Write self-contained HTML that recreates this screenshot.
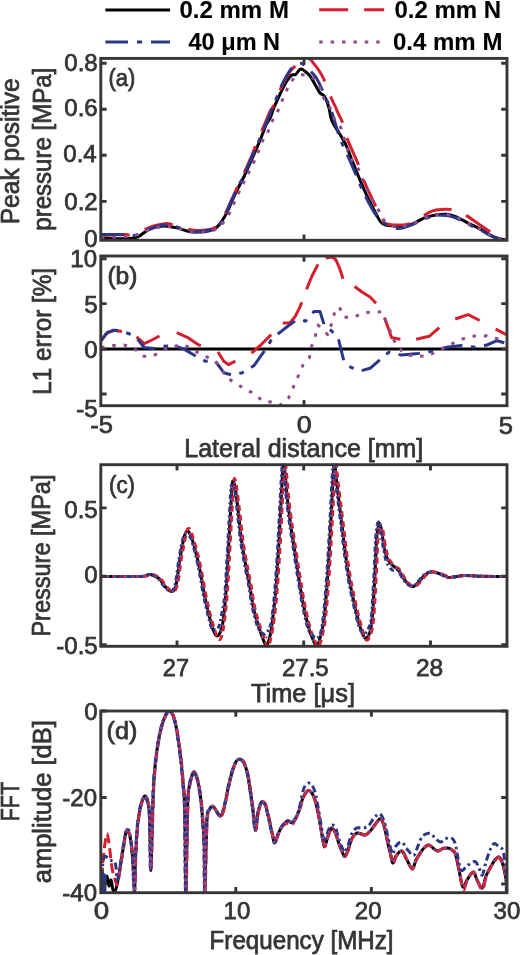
<!DOCTYPE html>
<html><head><meta charset="utf-8"><title>Figure</title>
<style>html,body{margin:0;padding:0;background:#fff;} svg{display:block;}</style>
</head><body>
<svg width="520" height="955" viewBox="0 0 520 955" font-family="'Liberation Sans', Arial, sans-serif">
<rect width="520" height="955" fill="#fff"/>
<clipPath id="clipa"><rect x="100.8" y="57.4" width="406.2" height="183.9"/></clipPath>
<clipPath id="clipb"><rect x="100.8" y="255.0" width="406.2" height="151.7"/></clipPath>
<clipPath id="clipc"><rect x="100.8" y="463.7" width="406.2" height="183.59999999999997"/></clipPath>
<clipPath id="clipd"><rect x="100.8" y="710.0" width="406.2" height="183.70000000000005"/></clipPath>
<path d="M101.00,238.50 C105.67,238.50 122.75,238.83 129.00,238.50 C135.25,238.17 135.00,238.12 138.50,236.50 C142.00,234.88 145.83,230.55 150.00,228.80 C154.17,227.05 159.00,226.15 163.50,226.00 C168.00,225.85 172.52,226.95 177.00,227.90 C181.48,228.85 185.73,231.10 190.40,231.70 C195.07,232.30 201.07,231.95 205.00,231.50 C208.93,231.05 211.83,229.92 214.00,229.00 C216.17,228.08 216.10,228.27 218.00,226.00 C219.90,223.73 222.40,221.02 225.40,215.40 C228.40,209.78 232.93,198.70 236.00,192.30 C239.07,185.90 241.22,182.38 243.80,177.00 C246.38,171.62 248.67,166.42 251.50,160.00 C254.33,153.58 258.38,144.33 260.80,138.50 C263.22,132.67 264.47,128.37 266.00,125.00 C267.53,121.63 268.67,121.22 270.00,118.30 C271.33,115.38 272.32,111.55 274.00,107.50 C275.68,103.45 278.07,98.27 280.10,94.00 C282.13,89.73 284.30,85.03 286.20,81.90 C288.10,78.77 289.93,76.43 291.50,75.20 C293.07,73.97 294.13,75.52 295.60,74.50 C297.07,73.48 298.73,69.65 300.30,69.10 C301.87,68.55 303.32,69.97 305.00,71.20 C306.68,72.43 308.72,74.27 310.40,76.50 C312.08,78.73 313.53,81.90 315.10,84.60 C316.67,87.30 318.35,90.90 319.80,92.70 C321.25,94.50 322.68,94.05 323.80,95.40 C324.92,96.75 325.60,98.57 326.50,100.80 C327.40,103.03 328.30,105.43 329.20,108.80 C330.10,112.17 330.30,117.05 331.90,121.00 C333.50,124.95 336.48,128.57 338.80,132.50 C341.12,136.43 343.48,139.70 345.80,144.60 C348.12,149.50 350.40,156.13 352.70,161.90 C355.00,167.67 357.30,173.72 359.60,179.20 C361.90,184.68 363.90,189.32 366.50,194.80 C369.10,200.28 372.88,207.63 375.20,212.10 C377.52,216.57 378.67,219.45 380.40,221.60 C382.13,223.75 383.30,224.28 385.60,225.00 C387.90,225.72 391.32,225.75 394.20,225.90 C397.08,226.05 399.82,226.25 402.90,225.90 C405.98,225.55 408.95,225.20 412.70,223.80 C416.45,222.40 421.52,218.97 425.40,217.50 C429.28,216.03 432.48,215.53 436.00,215.00 C439.52,214.47 443.33,214.07 446.50,214.30 C449.67,214.53 451.47,214.98 455.00,216.40 C458.53,217.82 463.47,220.68 467.70,222.80 C471.93,224.92 476.52,226.98 480.40,229.10 C484.28,231.22 487.83,233.90 491.00,235.50 C494.17,237.10 496.73,238.03 499.40,238.70 C502.07,239.37 505.73,239.37 507.00,239.50" fill="none" stroke="#000000" stroke-width="3.0" stroke-linejoin="round" clip-path="url(#clipa)"/>
<path d="M101.00,235.50 C105.00,235.35 120.33,234.68 125.00,234.60 C129.67,234.52 127.00,235.27 129.00,235.00 C131.00,234.73 134.17,234.03 137.00,233.00 C139.83,231.97 142.55,230.13 146.00,228.80 C149.45,227.47 154.15,225.88 157.70,225.00 C161.25,224.12 164.75,223.50 167.30,223.50 C169.85,223.50 169.15,223.95 173.00,225.00 C176.85,226.05 185.90,228.90 190.40,229.80 C194.90,230.70 196.73,230.45 200.00,230.40 C203.27,230.35 207.33,230.07 210.00,229.50 C212.67,228.93 214.00,228.58 216.00,227.00 C218.00,225.42 220.00,223.17 222.00,220.00 C224.00,216.83 225.67,213.00 228.00,208.00 C230.33,203.00 233.33,195.83 236.00,190.00 C238.67,184.17 241.33,178.83 244.00,173.00 C246.67,167.17 249.33,161.33 252.00,155.00 C254.67,148.67 257.67,140.67 260.00,135.00 C262.33,129.33 264.33,124.92 266.00,121.00 C267.67,117.08 268.67,114.20 270.00,111.50 C271.33,108.80 272.00,109.05 274.00,104.80 C276.00,100.55 279.30,91.60 282.00,86.00 C284.70,80.40 288.05,74.47 290.20,71.20 C292.35,67.93 293.27,68.10 294.90,66.40 C296.53,64.70 298.32,62.37 300.00,61.00 C301.68,59.63 303.72,58.75 305.00,58.20 C306.28,57.65 306.70,57.40 307.70,57.70 C308.70,58.00 309.88,58.88 311.00,60.00 C312.12,61.12 313.15,62.77 314.40,64.40 C315.65,66.03 316.93,67.33 318.50,69.80 C320.07,72.27 321.78,74.72 323.80,79.20 C325.82,83.68 328.73,92.23 330.60,96.70 C332.47,101.17 333.67,103.08 335.00,106.00 C336.33,108.92 337.38,111.52 338.60,114.20 C339.82,116.88 340.82,117.90 342.30,122.10 C343.78,126.30 344.90,132.48 347.50,139.40 C350.10,146.32 355.17,156.68 357.90,163.60 C360.63,170.52 360.88,173.68 363.90,180.90 C366.92,188.12 372.68,199.97 376.00,206.90 C379.32,213.83 380.18,219.48 383.80,222.50 C387.42,225.52 393.67,224.72 397.70,225.00 C401.73,225.28 405.12,224.77 408.00,224.20 C410.88,223.63 411.75,223.42 415.00,221.60 C418.25,219.78 424.00,215.22 427.50,213.30 C431.00,211.38 432.12,210.73 436.00,210.10 C439.88,209.47 446.93,209.15 450.80,209.50 C454.67,209.85 456.38,211.05 459.20,212.20 C462.02,213.35 464.23,214.27 467.70,216.40 C471.17,218.53 476.12,222.35 480.00,225.00 C483.88,227.65 487.67,230.05 491.00,232.30 C494.33,234.55 497.33,237.30 500.00,238.50 C502.67,239.70 505.83,239.33 507.00,239.50" fill="none" stroke="#d61e2e" stroke-width="3.0" stroke-dasharray="29 16" stroke-dashoffset="0" stroke-linejoin="round" clip-path="url(#clipa)"/>
<path d="M101.00,234.60 C104.00,234.60 114.17,234.53 119.00,234.60 C123.83,234.67 127.00,234.93 130.00,235.00 C133.00,235.07 133.67,236.00 137.00,235.00 C140.33,234.00 145.58,230.67 150.00,229.00 C154.42,227.33 159.00,225.33 163.50,225.00 C168.00,224.67 172.58,225.92 177.00,227.00 C181.42,228.08 185.33,230.83 190.00,231.50 C194.67,232.17 201.00,231.50 205.00,231.00 C209.00,230.50 211.50,229.67 214.00,228.50 C216.50,227.33 218.00,226.58 220.00,224.00 C222.00,221.42 223.33,218.50 226.00,213.00 C228.67,207.50 233.00,197.33 236.00,191.00 C239.00,184.67 241.42,180.50 244.00,175.00 C246.58,169.50 248.67,164.50 251.50,158.00 C254.33,151.50 257.92,143.30 261.00,136.00 C264.08,128.70 267.60,120.07 270.00,114.20 C272.40,108.33 273.60,105.28 275.40,100.80 C277.20,96.32 279.00,91.35 280.80,87.30 C282.60,83.25 284.42,79.63 286.20,76.50 C287.98,73.37 289.72,70.40 291.50,68.50 C293.28,66.60 295.10,65.90 296.90,65.10 C298.70,64.30 300.50,63.13 302.30,63.70 C304.10,64.27 305.92,66.82 307.70,68.50 C309.48,70.18 311.43,72.02 313.00,73.80 C314.57,75.58 315.75,76.95 317.10,79.20 C318.45,81.45 319.53,83.93 321.10,87.30 C322.67,90.67 324.92,95.82 326.50,99.40 C328.08,102.98 329.25,105.20 330.60,108.80 C331.95,112.40 333.08,116.18 334.60,121.00 C336.12,125.82 337.80,132.53 339.70,137.70 C341.60,142.87 343.70,146.82 346.00,152.00 C348.30,157.18 350.67,162.25 353.50,168.80 C356.33,175.35 359.38,183.80 363.00,191.30 C366.62,198.80 371.70,208.52 375.20,213.80 C378.70,219.08 380.25,220.55 384.00,223.00 C387.75,225.45 393.37,228.08 397.70,228.50 C402.03,228.92 405.38,227.17 410.00,225.50 C414.62,223.83 421.07,220.17 425.40,218.50 C429.73,216.83 432.48,216.00 436.00,215.50 C439.52,215.00 443.33,215.17 446.50,215.50 C449.67,215.83 451.47,216.08 455.00,217.50 C458.53,218.92 463.47,221.92 467.70,224.00 C471.93,226.08 476.52,228.00 480.40,230.00 C484.28,232.00 487.83,234.42 491.00,236.00 C494.17,237.58 496.73,238.75 499.40,239.50 C502.07,240.25 505.73,240.33 507.00,240.50" fill="none" stroke="#2b3786" stroke-width="3.0" stroke-dasharray="22.6 9 5 9" stroke-dashoffset="0" stroke-linejoin="round" clip-path="url(#clipa)"/>
<path d="M101.00,237.50 C104.17,237.42 114.40,237.32 120.00,237.00 C125.60,236.68 130.43,236.60 134.60,235.60 C138.77,234.60 141.60,232.27 145.00,231.00 C148.40,229.73 151.67,228.75 155.00,228.00 C158.33,227.25 161.33,226.50 165.00,226.50 C168.67,226.50 172.83,227.17 177.00,228.00 C181.17,228.83 185.33,230.83 190.00,231.50 C194.67,232.17 201.00,232.25 205.00,232.00 C209.00,231.75 211.50,231.00 214.00,230.00 C216.50,229.00 217.58,228.50 220.00,226.00 C222.42,223.50 225.50,220.33 228.50,215.00 C231.50,209.67 235.08,200.17 238.00,194.00 C240.92,187.83 243.20,183.67 246.00,178.00 C248.80,172.33 251.97,166.33 254.80,160.00 C257.63,153.67 260.97,144.33 263.00,140.00 C265.03,135.67 265.62,136.83 267.00,134.00 C268.38,131.17 269.68,126.42 271.30,123.00 C272.92,119.58 275.12,116.75 276.70,113.50 C278.28,110.25 279.33,106.85 280.80,103.50 C282.27,100.15 283.93,96.88 285.50,93.40 C287.07,89.92 288.07,85.52 290.20,82.60 C292.33,79.68 295.50,77.13 298.30,75.90 C301.10,74.67 304.32,74.65 307.00,75.20 C309.68,75.75 312.15,76.97 314.40,79.20 C316.65,81.43 318.93,85.47 320.50,88.60 C322.07,91.73 322.23,94.85 323.80,98.00 C325.37,101.15 328.32,104.35 329.90,107.50 C331.48,110.65 331.52,113.60 333.30,116.90 C335.08,120.20 338.48,122.62 340.60,127.30 C342.72,131.98 344.10,139.55 346.00,145.00 C347.90,150.45 349.88,155.88 352.00,160.00 C354.12,164.12 356.37,165.03 358.70,169.70 C361.03,174.37 362.68,181.23 366.00,188.00 C369.32,194.77 375.63,204.98 378.60,210.30 C381.57,215.62 381.57,217.37 383.80,219.90 C386.03,222.43 389.30,224.40 392.00,225.50 C394.70,226.60 396.55,226.75 400.00,226.50 C403.45,226.25 408.47,225.50 412.70,224.00 C416.93,222.50 421.52,219.00 425.40,217.50 C429.28,216.00 432.48,215.50 436.00,215.00 C439.52,214.50 443.33,214.27 446.50,214.50 C449.67,214.73 451.47,214.98 455.00,216.40 C458.53,217.82 463.47,220.82 467.70,223.00 C471.93,225.18 476.52,227.42 480.40,229.50 C484.28,231.58 487.83,233.92 491.00,235.50 C494.17,237.08 496.73,238.25 499.40,239.00 C502.07,239.75 505.73,239.83 507.00,240.00" fill="none" stroke="#904a8e" stroke-width="3.0" stroke-dasharray="3.5 7.9" stroke-dashoffset="0" stroke-linejoin="round" clip-path="url(#clipa)"/>
<path d="M100.80,349.10 C168.50,349.10 439.30,349.10 507.00,349.10" fill="none" stroke="#000000" stroke-width="3.0" stroke-linejoin="round" clip-path="url(#clipb)"/>
<path d="M101.00,340.80 L106.00,334.00 L113.40,330.20 L122.00,331.50 M136.50,336.90 L144.20,343.70 L152.00,340.00 L159.50,336.00 M176.80,332.70 L188.40,337.90 L198.00,344.60 L200.80,345.69 M218.00,352.00 L223.80,361.20 L228.50,364.60 L235.40,361.20 M251.50,353.10 L260.80,345.00 L271.20,334.60 M282.70,323.10 L289.60,323.10 L295.40,316.20 L300.00,306.90 L301.70,302.32 M306.50,289.40 L312.00,276.00 L318.00,264.40 M326.00,258.50 L328.00,257.50 L332.50,257.00 L336.00,260.00 L339.50,268.00 L343.00,278.80 M354.60,286.50 L362.00,292.00 L370.00,297.00 L376.00,303.20 M384.50,317.60 L391.70,337.80 L400.40,339.20 M416.20,339.20 L429.20,336.30 L439.30,327.70 M455.20,319.00 L468.20,314.70 L479.70,320.50 M495.60,329.10 L507.00,334.90" fill="none" stroke="#d61e2e" stroke-width="3.0" stroke-linejoin="round" clip-path="url(#clipb)"/>
<path d="M101.00,340.80 L107.60,332.10 L115.30,330.20 L123.00,331.50 L129.70,334.00 L136.50,337.90 L144.20,347.50 L153.80,348.50 L163.40,346.20 L174.90,345.60 L184.50,349.40 L196.00,356.20 L205.40,361.20 L214.60,360.00 L223.80,372.70 L231.90,375.00 L242.30,372.70 L253.80,365.80 L265.40,349.60 L272.30,338.10 L281.50,331.20 L288.00,326.00 L295.40,320.80 L300.00,319.50 L305.60,321.20 L310.00,315.00 L314.20,311.50 L320.00,311.50 L324.80,327.00 L331.50,330.80 L338.30,338.50 L344.00,361.50 L350.80,367.30 L360.40,371.00 L370.00,368.30 L378.70,360.90 L388.80,352.20 L401.80,355.10 L417.70,353.60 L435.00,350.80 L446.50,347.30 L461.00,345.60 L475.40,347.30 L486.90,345.00 L497.00,340.70 L507.00,343.50" fill="none" stroke="#2b3786" stroke-width="3.0" stroke-dasharray="21.5 8.55 4.75 8.55" stroke-dashoffset="43.2" stroke-linejoin="round" clip-path="url(#clipb)"/>
<path d="M101.00,347.50 L113.40,345.60 L124.00,345.00 L134.50,348.50 L142.20,356.20 L152.80,356.20 L162.40,350.40 L173.00,346.50 L183.60,344.60 L193.20,350.00 L203.10,355.40 L213.50,360.00 L220.40,366.90 L226.20,377.30 L235.40,383.10 L244.60,388.80 L253.80,393.50 L263.10,401.50 L272.30,402.00 L281.50,405.00 L288.50,398.10 L293.10,387.70 L297.70,377.30 L303.00,365.00 L309.40,357.70 L311.30,347.00 L315.20,336.50 L318.00,325.00 L322.00,328.80 L327.70,334.60 L331.50,324.00 L334.40,313.50 L339.20,306.70 L344.00,317.30 L353.70,317.30 L364.20,312.50 L381.60,311.80 L388.80,327.70 L396.00,345.00 L406.10,355.10 L426.30,356.50 L440.80,349.30 L458.00,340.70 L469.60,336.30 L486.90,335.80 L504.20,340.70 L507.00,341.50" fill="none" stroke="#904a8e" stroke-width="3.0" stroke-dasharray="3.5 7.9" stroke-dashoffset="0" stroke-linejoin="round" clip-path="url(#clipb)"/>
<path d="M101.00,576.60 C105.83,576.60 123.00,576.63 130.00,576.60 C137.00,576.57 139.57,576.75 143.00,576.40 C146.43,576.05 147.93,574.15 150.60,574.50 C153.27,574.85 156.53,576.43 159.00,578.50 C161.47,580.57 163.28,584.72 165.40,586.90 C167.52,589.08 169.93,591.95 171.70,591.60 C173.47,591.25 174.58,590.52 176.00,584.80 C177.42,579.08 178.97,564.70 180.20,557.30 C181.43,549.90 182.57,544.32 183.40,540.40 C184.23,536.48 184.60,535.38 185.20,533.80 C185.80,532.22 186.37,531.15 187.00,530.90 C187.63,530.65 188.20,531.07 189.00,532.30 C189.80,533.53 190.62,534.83 191.80,538.30 C192.98,541.77 194.68,547.47 196.10,553.10 C197.52,558.73 198.90,565.05 200.30,572.10 C201.70,579.15 203.08,588.35 204.50,595.40 C205.92,602.45 207.38,608.77 208.80,614.40 C210.22,620.03 211.77,625.67 213.00,629.20 C214.23,632.73 215.15,634.80 216.20,635.60 C217.25,636.40 218.25,635.77 219.30,634.00 C220.35,632.23 221.43,631.43 222.50,625.00 C223.57,618.57 224.82,605.98 225.70,595.40 C226.58,584.82 227.10,573.48 227.80,561.50 C228.50,549.52 229.20,535.83 229.90,523.50 C230.60,511.17 231.47,494.58 232.00,487.50 C232.53,480.42 232.57,481.00 233.10,481.00 C233.63,481.00 234.32,482.18 235.20,487.50 C236.08,492.82 237.35,504.08 238.40,512.90 C239.45,521.72 240.27,531.58 241.50,540.40 C242.73,549.22 244.52,558.75 245.80,565.80 C247.08,572.85 247.92,575.65 249.20,582.70 C250.48,589.75 251.90,600.70 253.50,608.10 C255.10,615.50 257.22,621.95 258.80,627.10 C260.38,632.25 261.77,635.93 263.00,639.00 C264.23,642.07 265.15,645.50 266.20,645.50 C267.25,645.50 268.25,643.12 269.30,639.00 C270.35,634.88 271.43,628.77 272.50,620.80 C273.57,612.83 274.65,603.90 275.70,591.20 C276.75,578.50 277.92,559.47 278.80,544.60 C279.68,529.73 280.42,513.10 281.00,502.00 C281.58,490.90 281.92,484.17 282.30,478.00 C282.68,471.83 282.97,467.08 283.30,465.00 C283.63,462.92 283.93,463.33 284.30,465.50 C284.67,467.67 285.00,472.57 285.50,478.00 C286.00,483.43 286.47,490.52 287.30,498.10 C288.13,505.68 289.27,514.68 290.50,523.50 C291.73,532.32 293.30,541.83 294.70,551.00 C296.10,560.17 297.48,569.68 298.90,578.50 C300.32,587.32 301.60,595.80 303.20,603.90 C304.80,612.00 306.92,621.25 308.50,627.10 C310.08,632.95 311.30,635.93 312.70,639.00 C314.10,642.07 315.48,646.33 316.90,645.50 C318.32,644.67 319.97,638.83 321.20,634.00 C322.43,629.17 323.25,625.75 324.30,616.50 C325.35,607.25 326.62,590.48 327.50,578.50 C328.38,566.52 328.90,556.68 329.60,544.60 C330.30,532.52 331.13,516.77 331.70,506.00 C332.27,495.23 332.62,486.75 333.00,480.00 C333.38,473.25 333.67,467.83 334.00,465.50 C334.33,463.17 334.63,463.92 335.00,466.00 C335.37,468.08 335.52,471.95 336.20,478.00 C336.88,484.05 338.08,494.02 339.10,502.30 C340.12,510.58 341.27,519.27 342.30,527.70 C343.33,536.13 344.10,544.12 345.30,552.90 C346.50,561.68 347.92,571.58 349.50,580.40 C351.08,589.22 353.03,598.05 354.80,605.80 C356.57,613.55 358.40,621.53 360.10,626.90 C361.80,632.27 363.42,636.93 365.00,638.00 C366.58,639.07 368.40,636.55 369.60,633.30 C370.80,630.05 371.50,624.85 372.20,618.50 C372.90,612.15 373.25,604.37 373.80,595.20 C374.35,586.03 375.05,572.70 375.50,563.50 C375.95,554.30 376.12,545.75 376.50,540.00 C376.88,534.25 377.37,531.67 377.80,529.00 C378.23,526.33 378.70,524.75 379.10,524.00 C379.50,523.25 379.83,523.67 380.20,524.50 C380.57,525.33 380.95,527.25 381.30,529.00 C381.65,530.75 381.78,531.72 382.30,535.00 C382.82,538.28 383.52,544.67 384.40,548.70 C385.28,552.73 386.18,556.38 387.60,559.20 C389.02,562.02 391.13,563.83 392.90,565.60 C394.67,567.37 396.43,567.68 398.20,569.80 C399.97,571.92 401.73,575.83 403.50,578.30 C405.27,580.77 407.05,583.27 408.80,584.60 C410.55,585.93 412.25,586.83 414.00,586.30 C415.75,585.77 417.53,583.27 419.30,581.40 C421.07,579.53 422.65,576.68 424.60,575.10 C426.55,573.52 428.53,572.15 431.00,571.90 C433.47,571.65 436.93,572.88 439.40,573.60 C441.87,574.32 444.03,575.55 445.80,576.20 C447.57,576.85 446.92,577.60 450.00,577.50 C453.08,577.40 459.43,575.82 464.30,575.60 C469.17,575.38 472.08,576.03 479.20,576.20 C486.32,576.37 502.37,576.53 507.00,576.60" fill="none" stroke="#000000" stroke-width="3.0" stroke-linejoin="round" clip-path="url(#clipc)"/>
<path d="M102.40,576.60 C107.23,576.60 124.40,576.63 131.40,576.60 C138.40,576.57 140.97,576.75 144.40,576.40 C147.83,576.05 149.33,574.15 152.00,574.50 C154.67,574.85 157.93,576.43 160.40,578.50 C162.87,580.57 164.68,584.72 166.80,586.90 C168.92,589.08 171.33,591.95 173.10,591.60 C174.87,591.25 175.98,590.52 177.40,584.80 C178.82,579.08 180.37,564.70 181.60,557.30 C182.83,549.90 183.97,544.70 184.80,540.40 C185.63,536.10 186.00,533.48 186.60,531.50 C187.20,529.52 187.77,528.75 188.40,528.50 C189.03,528.25 189.60,528.37 190.40,530.00 C191.20,531.63 192.02,534.45 193.20,538.30 C194.38,542.15 196.08,547.47 197.50,553.10 C198.92,558.73 200.30,565.05 201.70,572.10 C203.10,579.15 204.48,588.35 205.90,595.40 C207.32,602.45 208.78,608.77 210.20,614.40 C211.62,620.03 213.17,625.35 214.40,629.20 C215.63,633.05 216.55,635.95 217.60,637.50 C218.65,639.05 219.65,640.58 220.70,638.50 C221.75,636.42 222.83,632.18 223.90,625.00 C224.97,617.82 226.22,605.98 227.10,595.40 C227.98,584.82 228.50,573.48 229.20,561.50 C229.90,549.52 230.60,535.83 231.30,523.50 C232.00,511.17 232.87,495.00 233.40,487.50 C233.93,480.00 233.97,478.50 234.50,478.50 C235.03,478.50 235.72,481.77 236.60,487.50 C237.48,493.23 238.75,504.08 239.80,512.90 C240.85,521.72 241.67,531.58 242.90,540.40 C244.13,549.22 245.92,558.75 247.20,565.80 C248.48,572.85 249.32,575.65 250.60,582.70 C251.88,589.75 253.30,600.70 254.90,608.10 C256.50,615.50 258.62,621.95 260.20,627.10 C261.78,632.25 263.17,635.68 264.40,639.00 C265.63,642.32 266.55,647.00 267.60,647.00 C268.65,647.00 269.65,643.37 270.70,639.00 C271.75,634.63 272.83,628.77 273.90,620.80 C274.97,612.83 276.05,603.90 277.10,591.20 C278.15,578.50 279.32,559.47 280.20,544.60 C281.08,529.73 281.82,513.10 282.40,502.00 C282.98,490.90 283.32,484.17 283.70,478.00 C284.08,471.83 284.37,467.08 284.70,465.00 C285.03,462.92 285.33,463.33 285.70,465.50 C286.07,467.67 286.40,472.57 286.90,478.00 C287.40,483.43 287.87,490.52 288.70,498.10 C289.53,505.68 290.67,514.68 291.90,523.50 C293.13,532.32 294.70,541.83 296.10,551.00 C297.50,560.17 298.88,569.68 300.30,578.50 C301.72,587.32 303.00,595.80 304.60,603.90 C306.20,612.00 308.32,621.25 309.90,627.10 C311.48,632.95 312.70,635.68 314.10,639.00 C315.50,642.32 316.88,647.83 318.30,647.00 C319.72,646.17 321.37,639.08 322.60,634.00 C323.83,628.92 324.65,625.75 325.70,616.50 C326.75,607.25 328.02,590.48 328.90,578.50 C329.78,566.52 330.30,556.68 331.00,544.60 C331.70,532.52 332.53,516.77 333.10,506.00 C333.67,495.23 334.02,486.75 334.40,480.00 C334.78,473.25 335.07,467.83 335.40,465.50 C335.73,463.17 336.03,463.92 336.40,466.00 C336.77,468.08 336.92,471.95 337.60,478.00 C338.28,484.05 339.48,494.02 340.50,502.30 C341.52,510.58 342.67,519.27 343.70,527.70 C344.73,536.13 345.50,544.12 346.70,552.90 C347.90,561.68 349.32,571.58 350.90,580.40 C352.48,589.22 354.43,598.05 356.20,605.80 C357.97,613.55 359.80,621.20 361.50,626.90 C363.20,632.60 364.82,638.93 366.40,640.00 C367.98,641.07 369.80,636.88 371.00,633.30 C372.20,629.72 372.90,624.85 373.60,618.50 C374.30,612.15 374.65,604.37 375.20,595.20 C375.75,586.03 376.45,572.70 376.90,563.50 C377.35,554.30 377.52,545.08 377.90,540.00 C378.28,534.92 378.77,534.92 379.20,533.00 C379.63,531.08 380.10,529.42 380.50,528.50 C380.90,527.58 381.23,527.25 381.60,527.50 C381.97,527.75 382.35,528.75 382.70,530.00 C383.05,531.25 383.18,531.88 383.70,535.00 C384.22,538.12 384.92,544.67 385.80,548.70 C386.68,552.73 387.58,556.38 389.00,559.20 C390.42,562.02 392.53,563.83 394.30,565.60 C396.07,567.37 397.83,567.68 399.60,569.80 C401.37,571.92 403.13,575.83 404.90,578.30 C406.67,580.77 408.45,583.27 410.20,584.60 C411.95,585.93 413.65,586.83 415.40,586.30 C417.15,585.77 418.93,583.27 420.70,581.40 C422.47,579.53 424.05,576.68 426.00,575.10 C427.95,573.52 429.93,572.15 432.40,571.90 C434.87,571.65 438.33,572.88 440.80,573.60 C443.27,574.32 445.43,575.55 447.20,576.20 C448.97,576.85 448.32,577.60 451.40,577.50 C454.48,577.40 460.83,575.82 465.70,575.60 C470.57,575.38 473.48,576.03 480.60,576.20 C487.72,576.37 503.77,576.53 508.40,576.60" fill="none" stroke="#d61e2e" stroke-width="3.0" stroke-dasharray="6 4" stroke-dashoffset="0" stroke-linejoin="round" clip-path="url(#clipc)"/>
<path d="M100.00,576.60 C104.83,576.60 122.00,576.63 129.00,576.60 C136.00,576.57 138.57,576.75 142.00,576.40 C145.43,576.05 146.93,574.15 149.60,574.50 C152.27,574.85 155.53,576.43 158.00,578.50 C160.47,580.57 162.28,584.72 164.40,586.90 C166.52,589.08 168.93,591.95 170.70,591.60 C172.47,591.25 173.58,590.52 175.00,584.80 C176.42,579.08 177.97,564.70 179.20,557.30 C180.43,549.90 181.57,543.95 182.40,540.40 C183.23,536.85 183.60,537.15 184.20,536.00 C184.80,534.85 185.37,533.67 186.00,533.50 C186.63,533.33 187.20,534.20 188.00,535.00 C188.80,535.80 189.62,535.28 190.80,538.30 C191.98,541.32 193.68,547.47 195.10,553.10 C196.52,558.73 197.90,565.05 199.30,572.10 C200.70,579.15 202.08,588.35 203.50,595.40 C204.92,602.45 206.38,608.77 207.80,614.40 C209.22,620.03 210.77,626.68 212.00,629.20 C213.23,631.72 214.15,629.70 215.20,629.50 C216.25,629.30 217.25,630.42 218.30,628.00 C219.35,625.58 220.43,620.43 221.50,615.00 C222.57,609.57 223.82,604.32 224.70,595.40 C225.58,586.48 226.10,573.48 226.80,561.50 C227.50,549.52 228.20,535.83 228.90,523.50 C229.60,511.17 230.47,493.58 231.00,487.50 C231.53,481.42 231.57,487.00 232.10,487.00 C232.63,487.00 233.32,483.18 234.20,487.50 C235.08,491.82 236.35,504.08 237.40,512.90 C238.45,521.72 239.27,531.58 240.50,540.40 C241.73,549.22 243.52,558.75 244.80,565.80 C246.08,572.85 246.92,575.65 248.20,582.70 C249.48,589.75 250.90,600.70 252.50,608.10 C254.10,615.50 256.22,622.95 257.80,627.10 C259.38,631.25 260.77,631.85 262.00,633.00 C263.23,634.15 264.15,634.50 265.20,634.00 C266.25,633.50 267.25,632.20 268.30,630.00 C269.35,627.80 270.43,627.27 271.50,620.80 C272.57,614.33 273.65,603.90 274.70,591.20 C275.75,578.50 276.92,559.47 277.80,544.60 C278.68,529.73 279.42,513.10 280.00,502.00 C280.58,490.90 280.92,484.17 281.30,478.00 C281.68,471.83 281.97,467.08 282.30,465.00 C282.63,462.92 282.93,463.33 283.30,465.50 C283.67,467.67 284.00,472.57 284.50,478.00 C285.00,483.43 285.47,490.52 286.30,498.10 C287.13,505.68 288.27,514.68 289.50,523.50 C290.73,532.32 292.30,541.83 293.70,551.00 C295.10,560.17 296.48,569.68 297.90,578.50 C299.32,587.32 300.60,595.80 302.20,603.90 C303.80,612.00 305.92,622.08 307.50,627.10 C309.08,632.12 310.30,632.10 311.70,634.00 C313.10,635.90 314.48,638.50 315.90,638.50 C317.32,638.50 318.97,637.67 320.20,634.00 C321.43,630.33 322.25,625.75 323.30,616.50 C324.35,607.25 325.62,590.48 326.50,578.50 C327.38,566.52 327.90,556.68 328.60,544.60 C329.30,532.52 330.13,516.77 330.70,506.00 C331.27,495.23 331.62,486.75 332.00,480.00 C332.38,473.25 332.67,467.83 333.00,465.50 C333.33,463.17 333.63,463.92 334.00,466.00 C334.37,468.08 334.52,471.95 335.20,478.00 C335.88,484.05 337.08,494.02 338.10,502.30 C339.12,510.58 340.27,519.27 341.30,527.70 C342.33,536.13 343.10,544.12 344.30,552.90 C345.50,561.68 346.92,571.58 348.50,580.40 C350.08,589.22 352.03,598.05 353.80,605.80 C355.57,613.55 357.40,622.20 359.10,626.90 C360.80,631.60 362.42,633.82 364.00,634.00 C365.58,634.18 367.40,630.58 368.60,628.00 C369.80,625.42 370.50,623.97 371.20,618.50 C371.90,613.03 372.25,604.37 372.80,595.20 C373.35,586.03 374.05,572.70 374.50,563.50 C374.95,554.30 375.12,546.08 375.50,540.00 C375.88,533.92 376.37,529.97 376.80,527.00 C377.23,524.03 377.70,522.87 378.10,522.20 C378.50,521.53 378.83,522.20 379.20,523.00 C379.57,523.80 379.95,525.00 380.30,527.00 C380.65,529.00 380.78,531.38 381.30,535.00 C381.82,538.62 382.52,544.20 383.40,548.70 C384.28,553.20 385.18,558.48 386.60,562.00 C388.02,565.52 390.13,568.50 391.90,569.80 C393.67,571.10 395.43,568.38 397.20,569.80 C398.97,571.22 400.73,575.83 402.50,578.30 C404.27,580.77 406.05,583.27 407.80,584.60 C409.55,585.93 411.25,586.83 413.00,586.30 C414.75,585.77 416.53,583.27 418.30,581.40 C420.07,579.53 421.65,576.68 423.60,575.10 C425.55,573.52 427.53,572.15 430.00,571.90 C432.47,571.65 435.93,572.88 438.40,573.60 C440.87,574.32 443.03,575.55 444.80,576.20 C446.57,576.85 445.92,577.60 449.00,577.50 C452.08,577.40 458.43,575.82 463.30,575.60 C468.17,575.38 471.08,576.03 478.20,576.20 C485.32,576.37 501.37,576.53 506.00,576.60" fill="none" stroke="#2b3786" stroke-width="3.0" stroke-dasharray="5 3 2 3" stroke-dashoffset="0" stroke-linejoin="round" clip-path="url(#clipc)"/>
<path d="M101.20,576.60 C106.03,576.60 123.20,576.63 130.20,576.60 C137.20,576.57 139.77,576.75 143.20,576.40 C146.63,576.05 148.13,574.15 150.80,574.50 C153.47,574.85 156.73,576.43 159.20,578.50 C161.67,580.57 163.48,584.72 165.60,586.90 C167.72,589.08 170.13,591.95 171.90,591.60 C173.67,591.25 174.78,590.52 176.20,584.80 C177.62,579.08 179.17,564.70 180.40,557.30 C181.63,549.90 182.77,544.32 183.60,540.40 C184.43,536.48 184.80,535.20 185.40,533.80 C186.00,532.40 186.57,532.25 187.20,532.00 C187.83,531.75 188.40,531.25 189.20,532.30 C190.00,533.35 190.82,534.83 192.00,538.30 C193.18,541.77 194.88,547.47 196.30,553.10 C197.72,558.73 199.10,565.05 200.50,572.10 C201.90,579.15 203.28,588.35 204.70,595.40 C206.12,602.45 207.58,608.77 209.00,614.40 C210.42,620.03 211.97,626.27 213.20,629.20 C214.43,632.13 215.35,631.53 216.40,632.00 C217.45,632.47 218.45,633.17 219.50,632.00 C220.55,630.83 221.63,631.10 222.70,625.00 C223.77,618.90 225.02,605.98 225.90,595.40 C226.78,584.82 227.30,573.48 228.00,561.50 C228.70,549.52 229.40,535.83 230.10,523.50 C230.80,511.17 231.67,494.08 232.20,487.50 C232.73,480.92 232.77,484.00 233.30,484.00 C233.83,484.00 234.52,482.68 235.40,487.50 C236.28,492.32 237.55,504.08 238.60,512.90 C239.65,521.72 240.47,531.58 241.70,540.40 C242.93,549.22 244.72,558.75 246.00,565.80 C247.28,572.85 248.12,575.65 249.40,582.70 C250.68,589.75 252.10,600.70 253.70,608.10 C255.30,615.50 257.42,621.95 259.00,627.10 C260.58,632.25 261.97,637.18 263.20,639.00 C264.43,640.82 265.35,638.00 266.40,638.00 C267.45,638.00 268.45,641.87 269.50,639.00 C270.55,636.13 271.63,628.77 272.70,620.80 C273.77,612.83 274.85,603.90 275.90,591.20 C276.95,578.50 278.12,559.47 279.00,544.60 C279.88,529.73 280.62,513.10 281.20,502.00 C281.78,490.90 282.12,484.17 282.50,478.00 C282.88,471.83 283.17,467.08 283.50,465.00 C283.83,462.92 284.13,463.33 284.50,465.50 C284.87,467.67 285.20,472.57 285.70,478.00 C286.20,483.43 286.67,490.52 287.50,498.10 C288.33,505.68 289.47,514.68 290.70,523.50 C291.93,532.32 293.50,541.83 294.90,551.00 C296.30,560.17 297.68,569.68 299.10,578.50 C300.52,587.32 301.80,595.80 303.40,603.90 C305.00,612.00 307.12,621.25 308.70,627.10 C310.28,632.95 311.50,635.93 312.90,639.00 C314.30,642.07 315.68,646.33 317.10,645.50 C318.52,644.67 320.17,638.83 321.40,634.00 C322.63,629.17 323.45,625.75 324.50,616.50 C325.55,607.25 326.82,590.48 327.70,578.50 C328.58,566.52 329.10,556.68 329.80,544.60 C330.50,532.52 331.33,516.77 331.90,506.00 C332.47,495.23 332.82,486.75 333.20,480.00 C333.58,473.25 333.87,467.83 334.20,465.50 C334.53,463.17 334.83,463.92 335.20,466.00 C335.57,468.08 335.72,471.95 336.40,478.00 C337.08,484.05 338.28,494.02 339.30,502.30 C340.32,510.58 341.47,519.27 342.50,527.70 C343.53,536.13 344.30,544.12 345.50,552.90 C346.70,561.68 348.12,571.58 349.70,580.40 C351.28,589.22 353.23,598.05 355.00,605.80 C356.77,613.55 358.60,621.53 360.30,626.90 C362.00,632.27 363.62,636.93 365.20,638.00 C366.78,639.07 368.60,636.55 369.80,633.30 C371.00,630.05 371.70,624.85 372.40,618.50 C373.10,612.15 373.45,604.37 374.00,595.20 C374.55,586.03 375.25,572.70 375.70,563.50 C376.15,554.30 376.32,545.75 376.70,540.00 C377.08,534.25 377.57,531.67 378.00,529.00 C378.43,526.33 378.90,524.75 379.30,524.00 C379.70,523.25 380.03,523.67 380.40,524.50 C380.77,525.33 381.15,527.25 381.50,529.00 C381.85,530.75 381.98,531.72 382.50,535.00 C383.02,538.28 383.72,544.67 384.60,548.70 C385.48,552.73 386.38,556.38 387.80,559.20 C389.22,562.02 391.33,563.83 393.10,565.60 C394.87,567.37 396.63,567.68 398.40,569.80 C400.17,571.92 401.93,575.83 403.70,578.30 C405.47,580.77 407.25,583.27 409.00,584.60 C410.75,585.93 412.45,586.83 414.20,586.30 C415.95,585.77 417.73,583.27 419.50,581.40 C421.27,579.53 422.85,576.68 424.80,575.10 C426.75,573.52 428.73,572.15 431.20,571.90 C433.67,571.65 437.13,572.88 439.60,573.60 C442.07,574.32 444.23,575.55 446.00,576.20 C447.77,576.85 447.12,577.60 450.20,577.50 C453.28,577.40 459.63,575.82 464.50,575.60 C469.37,575.38 472.28,576.03 479.40,576.20 C486.52,576.37 502.57,576.53 507.20,576.60" fill="none" stroke="#904a8e" stroke-width="3.0" stroke-dasharray="1.5 4.5" stroke-dashoffset="0" stroke-linejoin="round" clip-path="url(#clipc)"/>
<path d="M101.00,885.00 C101.33,883.83 102.33,878.17 103.00,878.00 C103.67,877.83 104.33,884.33 105.00,884.00 C105.67,883.67 106.33,875.67 107.00,876.00 C107.67,876.33 108.33,885.33 109.00,886.00 C109.67,886.67 110.33,879.33 111.00,880.00 C111.67,880.67 112.33,888.17 113.00,890.00 C113.67,891.83 114.33,891.83 115.00,891.00 C115.67,890.17 116.30,887.97 117.00,885.00 C117.70,882.03 118.23,878.93 119.20,873.20 C120.17,867.47 121.73,857.20 122.80,850.60 C123.87,844.00 124.78,836.87 125.60,833.60 C126.42,830.33 126.88,830.07 127.70,831.00 C128.52,831.93 129.67,834.53 130.50,839.20 C131.33,843.87 132.03,850.27 132.70,859.00 C133.37,867.73 134.03,891.60 134.50,891.60 C134.97,891.60 134.98,870.08 135.50,859.00 C136.02,847.92 136.77,833.82 137.60,825.10 C138.43,816.38 139.55,811.18 140.50,806.70 C141.45,802.22 142.48,799.97 143.30,798.20 C144.12,796.43 144.70,795.63 145.40,796.10 C146.10,796.57 146.80,797.58 147.50,801.00 C148.20,804.42 149.05,805.03 149.60,816.60 C150.15,828.17 150.32,870.40 150.80,870.40 C151.28,870.40 151.98,831.58 152.50,816.60 C153.02,801.62 153.17,791.48 153.90,780.50 C154.63,769.52 155.73,759.30 156.90,750.70 C158.07,742.10 159.57,734.53 160.90,728.90 C162.23,723.27 163.73,719.72 164.90,716.90 C166.07,714.08 166.92,712.98 167.90,712.00 C168.88,711.02 169.65,709.52 170.80,711.00 C171.95,712.48 173.63,716.60 174.80,720.90 C175.97,725.20 176.80,730.50 177.80,736.80 C178.80,743.10 179.97,751.42 180.80,758.70 C181.63,765.98 182.13,771.88 182.80,780.50 C183.47,789.12 184.30,791.83 184.80,810.40 C185.30,828.97 185.32,892.90 185.80,891.90 C186.28,890.90 187.05,822.30 187.70,804.40 C188.35,786.50 188.87,789.63 189.70,784.50 C190.53,779.37 191.87,775.58 192.70,773.60 C193.53,771.62 193.87,771.45 194.70,772.60 C195.53,773.75 196.70,776.20 197.70,780.50 C198.70,784.80 199.87,791.77 200.70,798.40 C201.53,805.03 202.12,812.67 202.70,820.30 C203.28,827.93 203.85,832.27 204.20,844.20 C204.55,856.13 204.35,895.80 204.80,891.90 C205.25,888.00 206.07,834.58 206.90,820.80 C207.73,807.02 208.83,811.62 209.80,809.20 C210.77,806.78 211.58,805.97 212.70,806.30 C213.82,806.63 215.22,809.58 216.50,811.20 C217.78,812.82 219.12,816.65 220.40,816.00 C221.68,815.35 222.92,811.95 224.20,807.30 C225.48,802.65 226.82,793.87 228.10,788.10 C229.38,782.33 230.62,777.03 231.90,772.70 C233.18,768.37 234.52,764.35 235.80,762.10 C237.08,759.85 238.32,759.20 239.60,759.20 C240.88,759.20 242.22,759.85 243.50,762.10 C244.78,764.35 246.18,768.05 247.30,772.70 C248.42,777.35 249.23,783.58 250.20,790.00 C251.17,796.42 252.23,804.47 253.10,811.20 C253.97,817.93 254.60,830.08 255.40,830.40 C256.20,830.72 257.00,817.58 257.90,813.10 C258.80,808.62 260.00,805.43 260.80,803.50 C261.60,801.57 261.90,801.18 262.70,801.50 C263.50,801.82 264.63,802.83 265.60,805.40 C266.57,807.97 267.38,812.10 268.50,816.90 C269.62,821.70 271.28,829.87 272.30,834.20 C273.32,838.53 273.63,842.90 274.60,842.90 C275.57,842.90 276.88,836.93 278.10,834.20 C279.32,831.47 280.30,828.73 281.90,826.50 C283.50,824.27 286.10,821.43 287.70,820.80 C289.30,820.17 290.22,823.03 291.50,822.70 C292.78,822.37 294.12,820.92 295.40,818.80 C296.68,816.68 297.98,813.38 299.20,810.00 C300.42,806.62 301.48,801.55 302.70,798.50 C303.92,795.45 305.38,792.98 306.50,791.70 C307.62,790.42 308.27,790.15 309.40,790.80 C310.53,791.45 312.02,792.72 313.30,795.60 C314.58,798.48 315.98,803.45 317.10,808.10 C318.22,812.75 319.03,818.05 320.00,823.50 C320.97,828.95 322.10,836.97 322.90,840.80 C323.70,844.63 324.00,847.15 324.80,846.50 C325.60,845.85 326.73,839.78 327.70,836.90 C328.67,834.02 329.80,830.63 330.60,829.20 C331.40,827.77 331.70,827.65 332.50,828.30 C333.30,828.95 334.28,830.38 335.40,833.10 C336.52,835.82 337.92,841.08 339.20,844.60 C340.48,848.12 342.13,852.27 343.10,854.20 C344.07,856.13 344.20,856.83 345.00,856.20 C345.80,855.57 346.78,853.30 347.90,850.40 C349.02,847.50 350.27,841.68 351.70,838.80 C353.13,835.92 354.90,833.90 356.50,833.10 C358.10,832.30 359.85,833.68 361.30,834.00 C362.75,834.32 363.75,835.47 365.20,835.00 C366.65,834.53 368.23,833.12 370.00,831.20 C371.77,829.28 374.03,825.58 375.80,823.50 C377.57,821.42 379.17,818.07 380.60,818.70 C382.03,819.33 383.28,823.62 384.40,827.30 C385.52,830.98 386.37,836.68 387.30,840.80 C388.23,844.92 389.08,848.30 390.00,852.00 C390.92,855.70 391.80,862.33 392.80,863.00 C393.80,863.67 394.52,858.00 396.00,856.00 C397.48,854.00 399.87,850.33 401.70,851.00 C403.53,851.67 405.25,857.00 407.00,860.00 C408.75,863.00 410.70,869.00 412.20,869.00 C413.70,869.00 414.77,862.50 416.00,860.00 C417.23,857.50 418.27,856.00 419.60,854.00 C420.93,852.00 422.50,849.50 424.00,848.00 C425.50,846.50 427.10,845.00 428.60,845.00 C430.10,845.00 431.52,847.00 433.00,848.00 C434.48,849.00 435.83,850.92 437.50,851.00 C439.17,851.08 441.25,849.00 443.00,848.50 C444.75,848.00 446.50,847.75 448.00,848.00 C449.50,848.25 450.77,849.00 452.00,850.00 C453.23,851.00 454.23,850.67 455.40,854.00 C456.57,857.33 457.77,864.53 459.00,870.00 C460.23,875.47 461.47,885.13 462.80,886.80 C464.13,888.47 465.25,882.47 467.00,880.00 C468.75,877.53 471.63,872.00 473.30,872.00 C474.97,872.00 475.52,877.28 477.00,880.00 C478.48,882.72 480.70,888.97 482.20,888.30 C483.70,887.63 484.52,879.72 486.00,876.00 C487.48,872.28 489.60,868.67 491.10,866.00 C492.60,863.33 493.75,861.50 495.00,860.00 C496.25,858.50 497.43,856.67 498.60,857.00 C499.77,857.33 501.00,859.50 502.00,862.00 C503.00,864.50 503.77,868.33 504.60,872.00 C505.43,875.67 506.60,882.00 507.00,884.00" fill="none" stroke="#000000" stroke-width="3.0" stroke-linejoin="round" clip-path="url(#clipd)"/>
<path d="M101.00,893.00 C101.28,888.30 102.12,872.47 102.70,864.80 C103.28,857.13 103.78,852.22 104.50,847.00 C105.22,841.78 106.17,833.50 107.00,833.50 C107.83,833.50 108.67,841.25 109.50,847.00 C110.33,852.75 110.92,862.03 112.00,868.00 C113.08,873.97 115.08,880.13 116.00,882.80 C116.92,885.47 116.92,885.60 117.50,884.00 C118.08,882.40 118.57,878.77 119.50,873.20 C120.43,867.63 122.03,857.20 123.10,850.60 C124.17,844.00 125.08,836.87 125.90,833.60 C126.72,830.33 127.18,830.07 128.00,831.00 C128.82,831.93 129.97,834.53 130.80,839.20 C131.63,843.87 132.33,850.27 133.00,859.00 C133.67,867.73 134.33,891.60 134.80,891.60 C135.27,891.60 135.28,870.08 135.80,859.00 C136.32,847.92 137.07,833.82 137.90,825.10 C138.73,816.38 139.85,811.18 140.80,806.70 C141.75,802.22 142.78,799.97 143.60,798.20 C144.42,796.43 145.00,795.63 145.70,796.10 C146.40,796.57 147.10,797.58 147.80,801.00 C148.50,804.42 149.35,805.03 149.90,816.60 C150.45,828.17 150.62,870.40 151.10,870.40 C151.58,870.40 152.28,831.58 152.80,816.60 C153.32,801.62 153.47,791.48 154.20,780.50 C154.93,769.52 156.03,759.30 157.20,750.70 C158.37,742.10 159.87,734.53 161.20,728.90 C162.53,723.27 164.03,719.72 165.20,716.90 C166.37,714.08 167.22,712.98 168.20,712.00 C169.18,711.02 169.95,709.52 171.10,711.00 C172.25,712.48 173.93,716.60 175.10,720.90 C176.27,725.20 177.10,730.50 178.10,736.80 C179.10,743.10 180.27,751.42 181.10,758.70 C181.93,765.98 182.43,771.88 183.10,780.50 C183.77,789.12 184.60,791.83 185.10,810.40 C185.60,828.97 185.62,892.90 186.10,891.90 C186.58,890.90 187.35,822.30 188.00,804.40 C188.65,786.50 189.17,789.63 190.00,784.50 C190.83,779.37 192.17,775.58 193.00,773.60 C193.83,771.62 194.17,771.45 195.00,772.60 C195.83,773.75 197.00,776.20 198.00,780.50 C199.00,784.80 200.17,791.77 201.00,798.40 C201.83,805.03 202.42,812.67 203.00,820.30 C203.58,827.93 204.15,832.27 204.50,844.20 C204.85,856.13 204.65,895.80 205.10,891.90 C205.55,888.00 206.37,834.58 207.20,820.80 C208.03,807.02 209.13,811.62 210.10,809.20 C211.07,806.78 211.88,805.97 213.00,806.30 C214.12,806.63 215.52,809.42 216.80,811.20 C218.08,812.98 219.42,817.65 220.70,817.00 C221.98,816.35 223.22,812.12 224.50,807.30 C225.78,802.48 227.12,793.87 228.40,788.10 C229.68,782.33 230.92,777.03 232.20,772.70 C233.48,768.37 234.82,764.35 236.10,762.10 C237.38,759.85 238.62,759.20 239.90,759.20 C241.18,759.20 242.52,759.85 243.80,762.10 C245.08,764.35 246.48,768.05 247.60,772.70 C248.72,777.35 249.53,783.58 250.50,790.00 C251.47,796.42 252.53,804.47 253.40,811.20 C254.27,817.93 254.90,830.08 255.70,830.40 C256.50,830.72 257.30,817.58 258.20,813.10 C259.10,808.62 260.30,805.43 261.10,803.50 C261.90,801.57 262.20,801.18 263.00,801.50 C263.80,801.82 264.93,802.83 265.90,805.40 C266.87,807.97 267.68,812.10 268.80,816.90 C269.92,821.70 271.58,829.87 272.60,834.20 C273.62,838.53 273.93,842.90 274.90,842.90 C275.87,842.90 277.18,836.93 278.40,834.20 C279.62,831.47 280.60,828.37 282.20,826.50 C283.80,824.63 286.40,823.25 288.00,823.00 C289.60,822.75 290.52,825.70 291.80,825.00 C293.08,824.30 294.42,821.30 295.70,818.80 C296.98,816.30 298.28,813.38 299.50,810.00 C300.72,806.62 301.78,801.55 303.00,798.50 C304.22,795.45 305.68,792.98 306.80,791.70 C307.92,790.42 308.57,790.15 309.70,790.80 C310.83,791.45 312.32,792.72 313.60,795.60 C314.88,798.48 316.28,803.45 317.40,808.10 C318.52,812.75 319.33,818.05 320.30,823.50 C321.27,828.95 322.40,836.97 323.20,840.80 C324.00,844.63 324.30,847.15 325.10,846.50 C325.90,845.85 327.03,839.78 328.00,836.90 C328.97,834.02 330.10,830.63 330.90,829.20 C331.70,827.77 332.00,827.65 332.80,828.30 C333.60,828.95 334.58,830.38 335.70,833.10 C336.82,835.82 338.22,841.08 339.50,844.60 C340.78,848.12 342.43,852.27 343.40,854.20 C344.37,856.13 344.50,856.83 345.30,856.20 C346.10,855.57 347.08,853.30 348.20,850.40 C349.32,847.50 350.57,841.68 352.00,838.80 C353.43,835.92 355.20,833.90 356.80,833.10 C358.40,832.30 360.15,833.68 361.60,834.00 C363.05,834.32 364.05,835.47 365.50,835.00 C366.95,834.53 368.53,833.12 370.30,831.20 C372.07,829.28 374.33,825.58 376.10,823.50 C377.87,821.42 379.47,818.07 380.90,818.70 C382.33,819.33 383.58,823.62 384.70,827.30 C385.82,830.98 386.67,836.68 387.60,840.80 C388.53,844.92 389.38,848.30 390.30,852.00 C391.22,855.70 392.10,862.33 393.10,863.00 C394.10,863.67 394.82,858.00 396.30,856.00 C397.78,854.00 400.17,850.33 402.00,851.00 C403.83,851.67 405.55,857.00 407.30,860.00 C409.05,863.00 411.00,869.00 412.50,869.00 C414.00,869.00 415.07,862.50 416.30,860.00 C417.53,857.50 418.57,856.00 419.90,854.00 C421.23,852.00 422.80,849.50 424.30,848.00 C425.80,846.50 427.40,845.00 428.90,845.00 C430.40,845.00 431.82,847.00 433.30,848.00 C434.78,849.00 436.13,850.92 437.80,851.00 C439.47,851.08 441.55,849.00 443.30,848.50 C445.05,848.00 446.80,847.75 448.30,848.00 C449.80,848.25 451.07,849.00 452.30,850.00 C453.53,851.00 454.53,850.67 455.70,854.00 C456.87,857.33 458.07,864.00 459.30,870.00 C460.53,876.00 461.77,888.33 463.10,890.00 C464.43,891.67 465.55,883.00 467.30,880.00 C469.05,877.00 471.93,872.00 473.60,872.00 C475.27,872.00 475.82,877.00 477.30,880.00 C478.78,883.00 481.00,890.67 482.50,890.00 C484.00,889.33 484.82,880.00 486.30,876.00 C487.78,872.00 489.90,868.67 491.40,866.00 C492.90,863.33 494.05,861.50 495.30,860.00 C496.55,858.50 497.73,856.67 498.90,857.00 C500.07,857.33 501.30,859.50 502.30,862.00 C503.30,864.50 504.07,868.33 504.90,872.00 C505.73,875.67 506.90,882.00 507.30,884.00" fill="none" stroke="#d61e2e" stroke-width="3.0" stroke-dasharray="10 5" stroke-dashoffset="0" stroke-linejoin="round" clip-path="url(#clipd)"/>
<path d="M101.00,893.00 C101.17,889.67 101.45,879.00 102.00,873.00 C102.55,867.00 102.97,859.17 104.30,857.00 C105.63,854.83 108.17,858.97 110.00,860.00 C111.83,861.03 114.13,859.87 115.30,863.20 C116.47,866.53 116.40,878.33 117.00,880.00 C117.60,881.67 117.98,878.10 118.90,873.20 C119.82,868.30 121.43,857.20 122.50,850.60 C123.57,844.00 124.48,837.13 125.30,833.60 C126.12,830.07 126.58,829.33 127.40,829.40 C128.22,829.47 129.37,829.07 130.20,834.00 C131.03,838.93 131.73,849.40 132.40,859.00 C133.07,868.60 133.73,891.60 134.20,891.60 C134.67,891.60 134.68,870.08 135.20,859.00 C135.72,847.92 136.47,833.82 137.30,825.10 C138.13,816.38 139.25,811.18 140.20,806.70 C141.15,802.22 142.18,799.97 143.00,798.20 C143.82,796.43 144.40,795.63 145.10,796.10 C145.80,796.57 146.50,797.58 147.20,801.00 C147.90,804.42 148.75,805.03 149.30,816.60 C149.85,828.17 150.02,870.40 150.50,870.40 C150.98,870.40 151.68,831.58 152.20,816.60 C152.72,801.62 152.87,791.48 153.60,780.50 C154.33,769.52 155.43,759.30 156.60,750.70 C157.77,742.10 159.27,734.53 160.60,728.90 C161.93,723.27 163.43,719.72 164.60,716.90 C165.77,714.08 166.62,712.98 167.60,712.00 C168.58,711.02 169.35,709.52 170.50,711.00 C171.65,712.48 173.33,716.60 174.50,720.90 C175.67,725.20 176.50,730.50 177.50,736.80 C178.50,743.10 179.67,751.42 180.50,758.70 C181.33,765.98 181.83,771.88 182.50,780.50 C183.17,789.12 184.00,791.83 184.50,810.40 C185.00,828.97 185.02,892.90 185.50,891.90 C185.98,890.90 186.75,822.30 187.40,804.40 C188.05,786.50 188.57,789.63 189.40,784.50 C190.23,779.37 191.57,775.58 192.40,773.60 C193.23,771.62 193.57,771.45 194.40,772.60 C195.23,773.75 196.40,776.20 197.40,780.50 C198.40,784.80 199.57,791.77 200.40,798.40 C201.23,805.03 201.82,812.67 202.40,820.30 C202.98,827.93 203.55,832.27 203.90,844.20 C204.25,856.13 204.05,895.80 204.50,891.90 C204.95,888.00 205.77,834.58 206.60,820.80 C207.43,807.02 208.53,811.62 209.50,809.20 C210.47,806.78 211.28,805.97 212.40,806.30 C213.52,806.63 214.92,809.58 216.20,811.20 C217.48,812.82 218.82,816.65 220.10,816.00 C221.38,815.35 222.62,811.95 223.90,807.30 C225.18,802.65 226.52,793.87 227.80,788.10 C229.08,782.33 230.32,777.03 231.60,772.70 C232.88,768.37 234.22,764.35 235.50,762.10 C236.78,759.85 238.02,759.20 239.30,759.20 C240.58,759.20 241.92,759.85 243.20,762.10 C244.48,764.35 245.88,768.05 247.00,772.70 C248.12,777.35 248.93,783.58 249.90,790.00 C250.87,796.42 251.93,804.47 252.80,811.20 C253.67,817.93 254.30,830.08 255.10,830.40 C255.90,830.72 256.70,817.58 257.60,813.10 C258.50,808.62 259.70,805.43 260.50,803.50 C261.30,801.57 261.60,801.18 262.40,801.50 C263.20,801.82 264.33,802.83 265.30,805.40 C266.27,807.97 267.08,812.10 268.20,816.90 C269.32,821.70 270.98,829.87 272.00,834.20 C273.02,838.53 273.33,842.90 274.30,842.90 C275.27,842.90 276.58,836.93 277.80,834.20 C279.02,831.47 280.00,828.73 281.60,826.50 C283.20,824.27 285.80,821.43 287.40,820.80 C289.00,820.17 289.92,823.03 291.20,822.70 C292.48,822.37 293.82,820.92 295.10,818.80 C296.38,816.68 297.63,814.47 298.90,810.00 C300.17,805.53 301.68,796.00 302.70,792.00 C303.72,788.00 304.03,787.48 305.00,786.00 C305.97,784.52 307.33,783.27 308.50,783.10 C309.67,782.93 310.92,783.52 312.00,785.00 C313.08,786.48 314.15,789.17 315.00,792.00 C315.85,794.83 316.27,797.67 317.10,802.00 C317.93,806.33 319.03,812.33 320.00,818.00 C320.97,823.67 322.10,832.00 322.90,836.00 C323.70,840.00 324.00,842.67 324.80,842.00 C325.60,841.33 326.73,834.67 327.70,832.00 C328.67,829.33 329.63,827.10 330.60,826.00 C331.57,824.90 332.60,824.90 333.50,825.40 C334.40,825.90 335.05,826.57 336.00,829.00 C336.95,831.43 338.02,836.50 339.20,840.00 C340.38,843.50 342.13,848.00 343.10,850.00 C344.07,852.00 344.20,852.67 345.00,852.00 C345.80,851.33 346.78,849.00 347.90,846.00 C349.02,843.00 350.27,837.00 351.70,834.00 C353.13,831.00 354.90,829.00 356.50,828.00 C358.10,827.00 359.38,828.28 361.30,828.00 C363.22,827.72 365.88,827.97 368.00,826.30 C370.12,824.63 372.07,820.08 374.00,818.00 C375.93,815.92 377.93,813.30 379.60,813.80 C381.27,814.30 382.72,817.63 384.00,821.00 C385.28,824.37 386.30,829.83 387.30,834.00 C388.30,838.17 389.08,842.67 390.00,846.00 C390.92,849.33 391.80,854.00 392.80,854.00 C393.80,854.00 394.52,848.00 396.00,846.00 C397.48,844.00 399.87,841.50 401.70,842.00 C403.53,842.50 405.02,846.75 407.00,849.00 C408.98,851.25 411.77,856.00 413.60,855.50 C415.43,855.00 416.50,849.23 418.00,846.00 C419.50,842.77 420.60,838.23 422.60,836.10 C424.60,833.97 427.93,832.88 430.00,833.20 C432.07,833.52 433.25,836.53 435.00,838.00 C436.75,839.47 438.83,841.83 440.50,842.00 C442.17,842.17 443.27,839.73 445.00,839.00 C446.73,838.27 449.23,836.93 450.90,837.60 C452.57,838.27 453.82,839.60 455.00,843.00 C456.18,846.40 456.95,853.43 458.00,858.00 C459.05,862.57 459.80,869.07 461.30,870.40 C462.80,871.73 464.75,867.48 467.00,866.00 C469.25,864.52 472.80,861.17 474.80,861.50 C476.80,861.83 477.77,865.75 479.00,868.00 C480.23,870.25 481.03,876.00 482.20,875.00 C483.37,874.00 484.70,866.17 486.00,862.00 C487.30,857.83 488.65,853.07 490.00,850.00 C491.35,846.93 492.77,844.27 494.10,843.60 C495.43,842.93 496.52,844.77 498.00,846.00 C499.48,847.23 501.75,847.00 503.00,851.00 C504.25,855.00 504.92,862.67 505.50,870.00 C506.08,877.33 506.33,890.83 506.50,895.00" fill="none" stroke="#2b3786" stroke-width="3.0" stroke-dasharray="7 3.5 2.5 3.5" stroke-dashoffset="0" stroke-linejoin="round" clip-path="url(#clipd)"/>
<path d="M119.20,873.20 C119.80,869.43 121.73,857.20 122.80,850.60 C123.87,844.00 124.78,836.87 125.60,833.60 C126.42,830.33 126.88,830.07 127.70,831.00 C128.52,831.93 129.67,834.53 130.50,839.20 C131.33,843.87 132.03,850.27 132.70,859.00 C133.37,867.73 134.03,891.60 134.50,891.60 C134.97,891.60 134.98,870.08 135.50,859.00 C136.02,847.92 136.77,833.82 137.60,825.10 C138.43,816.38 139.55,811.18 140.50,806.70 C141.45,802.22 142.48,799.97 143.30,798.20 C144.12,796.43 144.70,795.63 145.40,796.10 C146.10,796.57 146.80,797.58 147.50,801.00 C148.20,804.42 149.05,805.03 149.60,816.60 C150.15,828.17 150.32,870.40 150.80,870.40 C151.28,870.40 151.98,831.58 152.50,816.60 C153.02,801.62 153.17,791.48 153.90,780.50 C154.63,769.52 155.73,759.30 156.90,750.70 C158.07,742.10 159.57,734.53 160.90,728.90 C162.23,723.27 163.73,719.72 164.90,716.90 C166.07,714.08 166.92,712.98 167.90,712.00 C168.88,711.02 169.65,709.52 170.80,711.00 C171.95,712.48 173.63,716.60 174.80,720.90 C175.97,725.20 176.80,730.50 177.80,736.80 C178.80,743.10 179.97,751.42 180.80,758.70 C181.63,765.98 182.13,771.88 182.80,780.50 C183.47,789.12 184.30,791.83 184.80,810.40 C185.30,828.97 185.32,892.90 185.80,891.90 C186.28,890.90 187.05,822.30 187.70,804.40 C188.35,786.50 188.87,789.63 189.70,784.50 C190.53,779.37 191.87,775.58 192.70,773.60 C193.53,771.62 193.87,771.45 194.70,772.60 C195.53,773.75 196.70,776.20 197.70,780.50 C198.70,784.80 199.87,791.77 200.70,798.40 C201.53,805.03 202.12,812.67 202.70,820.30 C203.28,827.93 203.85,832.27 204.20,844.20 C204.55,856.13 204.35,895.80 204.80,891.90 C205.25,888.00 206.07,834.58 206.90,820.80 C207.73,807.02 208.83,811.62 209.80,809.20 C210.77,806.78 211.58,805.97 212.70,806.30 C213.82,806.63 215.22,809.58 216.50,811.20 C217.78,812.82 219.12,816.65 220.40,816.00 C221.68,815.35 222.92,811.95 224.20,807.30 C225.48,802.65 226.82,793.87 228.10,788.10 C229.38,782.33 230.62,777.03 231.90,772.70 C233.18,768.37 234.52,764.35 235.80,762.10 C237.08,759.85 238.32,759.20 239.60,759.20 C240.88,759.20 242.22,759.85 243.50,762.10 C244.78,764.35 246.18,768.05 247.30,772.70 C248.42,777.35 249.23,783.58 250.20,790.00 C251.17,796.42 252.23,804.47 253.10,811.20 C253.97,817.93 254.60,830.08 255.40,830.40 C256.20,830.72 257.00,817.58 257.90,813.10 C258.80,808.62 260.00,805.43 260.80,803.50 C261.60,801.57 261.90,801.18 262.70,801.50 C263.50,801.82 264.63,802.83 265.60,805.40 C266.57,807.97 267.38,812.10 268.50,816.90 C269.62,821.70 271.28,829.87 272.30,834.20 C273.32,838.53 273.63,842.90 274.60,842.90 C275.57,842.90 276.88,836.93 278.10,834.20 C279.32,831.47 280.30,828.73 281.90,826.50 C283.50,824.27 286.10,821.43 287.70,820.80 C289.30,820.17 290.22,823.03 291.50,822.70 C292.78,822.37 294.12,820.92 295.40,818.80 C296.68,816.68 297.98,813.38 299.20,810.00 C300.42,806.62 301.48,801.55 302.70,798.50 C303.92,795.45 305.38,792.98 306.50,791.70 C307.62,790.42 308.27,790.15 309.40,790.80 C310.53,791.45 312.02,792.72 313.30,795.60 C314.58,798.48 315.98,803.45 317.10,808.10 C318.22,812.75 319.03,818.05 320.00,823.50 C320.97,828.95 322.10,836.97 322.90,840.80 C323.70,844.63 324.00,847.15 324.80,846.50 C325.60,845.85 326.73,839.78 327.70,836.90 C328.67,834.02 329.80,830.63 330.60,829.20 C331.40,827.77 331.70,827.65 332.50,828.30 C333.30,828.95 334.28,830.38 335.40,833.10 C336.52,835.82 337.92,841.08 339.20,844.60 C340.48,848.12 342.13,852.27 343.10,854.20 C344.07,856.13 344.20,856.83 345.00,856.20 C345.80,855.57 346.78,853.30 347.90,850.40 C349.02,847.50 350.27,841.68 351.70,838.80 C353.13,835.92 354.90,833.90 356.50,833.10 C358.10,832.30 359.85,833.68 361.30,834.00 C362.75,834.32 363.75,835.47 365.20,835.00 C366.65,834.53 368.23,833.12 370.00,831.20 C371.77,829.28 374.03,825.58 375.80,823.50 C377.57,821.42 379.17,818.07 380.60,818.70 C382.03,819.33 383.28,823.62 384.40,827.30 C385.52,830.98 386.37,836.68 387.30,840.80 C388.23,844.92 389.08,848.30 390.00,852.00 C390.92,855.70 391.80,862.33 392.80,863.00 C393.80,863.67 394.52,858.00 396.00,856.00 C397.48,854.00 399.87,850.33 401.70,851.00 C403.53,851.67 405.25,857.00 407.00,860.00 C408.75,863.00 410.70,869.00 412.20,869.00 C413.70,869.00 414.77,862.50 416.00,860.00 C417.23,857.50 418.27,856.00 419.60,854.00 C420.93,852.00 422.50,849.50 424.00,848.00 C425.50,846.50 427.10,845.00 428.60,845.00 C430.10,845.00 431.52,847.00 433.00,848.00 C434.48,849.00 435.83,850.92 437.50,851.00 C439.17,851.08 441.25,849.00 443.00,848.50 C444.75,848.00 446.50,847.75 448.00,848.00 C449.50,848.25 450.77,849.00 452.00,850.00 C453.23,851.00 454.23,850.67 455.40,854.00 C456.57,857.33 457.77,864.53 459.00,870.00 C460.23,875.47 461.47,885.13 462.80,886.80 C464.13,888.47 465.25,882.47 467.00,880.00 C468.75,877.53 471.63,872.00 473.30,872.00 C474.97,872.00 475.52,877.28 477.00,880.00 C478.48,882.72 480.70,888.97 482.20,888.30 C483.70,887.63 484.52,879.72 486.00,876.00 C487.48,872.28 489.60,868.67 491.10,866.00 C492.60,863.33 493.75,861.50 495.00,860.00 C496.25,858.50 497.43,856.67 498.60,857.00 C499.77,857.33 501.00,859.50 502.00,862.00 C503.00,864.50 503.77,868.33 504.60,872.00 C505.43,875.67 506.60,882.00 507.00,884.00" fill="none" stroke="#904a8e" stroke-width="3.0" stroke-dasharray="2 4" stroke-dashoffset="0" stroke-linejoin="round" clip-path="url(#clipd)"/>
<path d="M103,893 L103.5,874 L105.5,876 L105,893" fill="none" stroke="#2b3786" stroke-width="2.6" clip-path="url(#clipd)"/>
<rect x="100.8" y="58.4" width="406.2" height="181.9" fill="none" stroke="#363636" stroke-width="2.9"/>
<path d="M100.8,63.3 h5.8 M507.0,63.3 h-5.8" stroke="#363636" stroke-width="2.9"/>
<path d="M100.8,109.3 h5.8 M507.0,109.3 h-5.8" stroke="#363636" stroke-width="2.9"/>
<path d="M100.8,155.3 h5.8 M507.0,155.3 h-5.8" stroke="#363636" stroke-width="2.9"/>
<path d="M100.8,201.4 h5.8 M507.0,201.4 h-5.8" stroke="#363636" stroke-width="2.9"/>
<path d="M304.0,58.4 v5.8 M304.0,240.3 v-5.8" stroke="#363636" stroke-width="2.9"/>
<rect x="100.8" y="256.0" width="406.2" height="149.7" fill="none" stroke="#363636" stroke-width="2.9"/>
<path d="M100.8,258.8 h5.8 M507.0,258.8 h-5.8" stroke="#363636" stroke-width="2.9"/>
<path d="M100.8,303.6 h5.8 M507.0,303.6 h-5.8" stroke="#363636" stroke-width="2.9"/>
<path d="M100.8,349.1 h5.8 M507.0,349.1 h-5.8" stroke="#363636" stroke-width="2.9"/>
<path d="M100.8,394.0 h5.8 M507.0,394.0 h-5.8" stroke="#363636" stroke-width="2.9"/>
<path d="M304.0,256.0 v5.8 M304.0,405.7 v-5.8" stroke="#363636" stroke-width="2.9"/>
<rect x="100.8" y="464.7" width="406.2" height="181.59999999999997" fill="none" stroke="#363636" stroke-width="2.9"/>
<path d="M100.8,507.9 h5.8 M507.0,507.9 h-5.8" stroke="#363636" stroke-width="2.9"/>
<path d="M100.8,576.3 h5.8 M507.0,576.3 h-5.8" stroke="#363636" stroke-width="2.9"/>
<path d="M100.8,644.7 h5.8 M507.0,644.7 h-5.8" stroke="#363636" stroke-width="2.9"/>
<path d="M177.0,464.7 v5.8 M177.0,646.3 v-5.8" stroke="#363636" stroke-width="2.9"/>
<path d="M303.7,464.7 v5.8 M303.7,646.3 v-5.8" stroke="#363636" stroke-width="2.9"/>
<path d="M430.5,464.7 v5.8 M430.5,646.3 v-5.8" stroke="#363636" stroke-width="2.9"/>
<rect x="100.8" y="711.0" width="406.2" height="181.70000000000005" fill="none" stroke="#363636" stroke-width="2.9"/>
<path d="M100.8,711.0 h5.8 M507.0,711.0 h-5.8" stroke="#363636" stroke-width="2.9"/>
<path d="M100.8,797.5 h5.8 M507.0,797.5 h-5.8" stroke="#363636" stroke-width="2.9"/>
<path d="M100.8,884.0 h5.8 M507.0,884.0 h-5.8" stroke="#363636" stroke-width="2.9"/>
<path d="M235.8,711.0 v5.8 M235.8,892.7 v-5.8" stroke="#363636" stroke-width="2.9"/>
<path d="M371.4,711.0 v5.8 M371.4,892.7 v-5.8" stroke="#363636" stroke-width="2.9"/>
<path d="M105.4,9.9 H170" stroke="#000000" stroke-width="3.0"/>
<path d="M319.2,9.7 H384.2" stroke="#d61e2e" stroke-width="3.0" stroke-dasharray="29 16"/>
<path d="M105.4,42.1 H170" stroke="#2b3786" stroke-width="3.0" stroke-dasharray="22.6 9 5 9"/>
<path d="M319.2,41.9 H381" stroke="#904a8e" stroke-width="3.0" stroke-dasharray="3.5 7.9"/>
<text x="179.50" y="17.70" font-size="24" font-weight="bold" fill="#000" stroke="#000" stroke-width="0.1">0.2 mm M</text>
<text x="394.40" y="17.70" font-size="24" font-weight="bold" fill="#000" stroke="#000" stroke-width="0.1">0.2 mm N</text>
<text x="188.50" y="50.00" font-size="24" font-weight="bold" textLength="91.61" lengthAdjust="spacingAndGlyphs" fill="#000" stroke="#000" stroke-width="0.1">40 μm N</text>
<text x="393.00" y="49.80" font-size="24" font-weight="bold" fill="#000" stroke="#000" stroke-width="0.1">0.4 mm M</text>
<text x="64.30" y="71.00" font-size="24" fill="#353535" stroke="#353535" stroke-width="0.75">0.8</text>
<text x="64.30" y="116.00" font-size="24" fill="#353535" stroke="#353535" stroke-width="0.75">0.6</text>
<text x="63.30" y="162.40" font-size="24" fill="#353535" stroke="#353535" stroke-width="0.75">0.4</text>
<text x="64.30" y="210.40" font-size="24" fill="#353535" stroke="#353535" stroke-width="0.75">0.2</text>
<text x="84.30" y="247.40" font-size="24" fill="#353535" stroke="#353535" stroke-width="0.75">0</text>
<text x="70.30" y="267.00" font-size="24" fill="#353535" stroke="#353535" stroke-width="0.75">10</text>
<text x="84.30" y="313.00" font-size="24" fill="#353535" stroke="#353535" stroke-width="0.75">5</text>
<text x="84.30" y="358.40" font-size="24" fill="#353535" stroke="#353535" stroke-width="0.75">0</text>
<text x="76.30" y="417.00" font-size="24" fill="#353535" stroke="#353535" stroke-width="0.75">-5</text>
<text x="64.30" y="517.50" font-size="24" fill="#353535" stroke="#353535" stroke-width="0.75">0.5</text>
<text x="84.30" y="583.00" font-size="24" fill="#353535" stroke="#353535" stroke-width="0.75">0</text>
<text x="56.30" y="653.50" font-size="24" fill="#353535" stroke="#353535" stroke-width="0.75">-0.5</text>
<text x="84.30" y="720.30" font-size="24" fill="#353535" stroke="#353535" stroke-width="0.75">0</text>
<text x="62.30" y="806.30" font-size="24" fill="#353535" stroke="#353535" stroke-width="0.75">-20</text>
<text x="62.30" y="900.60" font-size="24" fill="#353535" stroke="#353535" stroke-width="0.75">-40</text>
<text x="90.24" y="433.20" font-size="24" textLength="22.69" lengthAdjust="spacingAndGlyphs" fill="#353535" stroke="#353535" stroke-width="0.75">-5</text>
<text x="296.78" y="433.40" font-size="24" textLength="14.94" lengthAdjust="spacingAndGlyphs" fill="#353535" stroke="#353535" stroke-width="0.75">0</text>
<text x="498.84" y="433.80" font-size="24" textLength="14.21" lengthAdjust="spacingAndGlyphs" fill="#353535" stroke="#353535" stroke-width="0.75">5</text>
<text x="162.82" y="675.50" font-size="24" textLength="26.26" lengthAdjust="spacingAndGlyphs" fill="#353535" stroke="#353535" stroke-width="0.75">27</text>
<text x="281.99" y="675.50" font-size="24" fill="#353535" stroke="#353535" stroke-width="0.75">27.5</text>
<text x="415.98" y="675.50" font-size="24" textLength="27.24" lengthAdjust="spacingAndGlyphs" fill="#353535" stroke="#353535" stroke-width="0.75">28</text>
<text x="93.85" y="919.40" font-size="24" textLength="15.42" lengthAdjust="spacingAndGlyphs" fill="#353535" stroke="#353535" stroke-width="0.75">0</text>
<text x="223.60" y="919.30" font-size="24" fill="#353535" stroke="#353535" stroke-width="0.75">10</text>
<text x="354.80" y="919.30" font-size="24" fill="#353535" stroke="#353535" stroke-width="0.75">20</text>
<text x="493.60" y="919.30" font-size="24" fill="#353535" stroke="#353535" stroke-width="0.75">30</text>
<text x="184.31" y="456.70" font-size="25" fill="#353535" stroke="#353535" stroke-width="0.75">Lateral distance [mm]</text>
<text x="250.98" y="702.00" font-size="25" textLength="104.01" lengthAdjust="spacingAndGlyphs" fill="#353535" stroke="#353535" stroke-width="0.75">Time [μs]</text>
<text x="209.57" y="948.80" font-size="25" textLength="184.03" lengthAdjust="spacingAndGlyphs" fill="#353535" stroke="#353535" stroke-width="0.75">Frequency [MHz]</text>
<text x="108.45" y="86.00" font-size="23" textLength="26.83" lengthAdjust="spacingAndGlyphs" fill="#353535" stroke="#353535" stroke-width="0.75">(a)</text>
<text x="107.43" y="284.20" font-size="23" textLength="29.96" lengthAdjust="spacingAndGlyphs" fill="#353535" stroke="#353535" stroke-width="0.75">(b)</text>
<text x="109.03" y="493.30" font-size="23" textLength="25.97" lengthAdjust="spacingAndGlyphs" fill="#353535" stroke="#353535" stroke-width="0.75">(c)</text>
<text x="106.60" y="738.80" font-size="23" textLength="30.83" lengthAdjust="spacingAndGlyphs" fill="#353535" stroke="#353535" stroke-width="0.75">(d)</text>
<text transform="translate(19.30,224.26) rotate(-90)" x="0" y="0" font-size="25" textLength="145.95" lengthAdjust="spacingAndGlyphs" fill="#353535" stroke="#353535" stroke-width="0.75">Peak positive</text>
<text transform="translate(50.70,230.73) rotate(-90)" x="0" y="0" font-size="25" textLength="163.18" lengthAdjust="spacingAndGlyphs" fill="#353535" stroke="#353535" stroke-width="0.75">pressure [MPa]</text>
<text transform="translate(50.80,394.64) rotate(-90)" x="0" y="0" font-size="25" textLength="126.70" lengthAdjust="spacingAndGlyphs" fill="#353535" stroke="#353535" stroke-width="0.75">L1 error [%]</text>
<text transform="translate(50.40,636.58) rotate(-90)" x="0" y="0" font-size="25" textLength="162.03" lengthAdjust="spacingAndGlyphs" fill="#353535" stroke="#353535" stroke-width="0.75">Pressure [MPa]</text>
<text transform="translate(18.50,821.32) rotate(-90)" x="0" y="0" font-size="25" textLength="39.33" lengthAdjust="spacingAndGlyphs" fill="#353535" stroke="#353535" stroke-width="0.75">FFT</text>
<text transform="translate(50.90,883.32) rotate(-90)" x="0" y="0" font-size="25" textLength="163.29" lengthAdjust="spacingAndGlyphs" fill="#353535" stroke="#353535" stroke-width="0.75">amplitude [dB]</text>
</svg>
</body></html>
